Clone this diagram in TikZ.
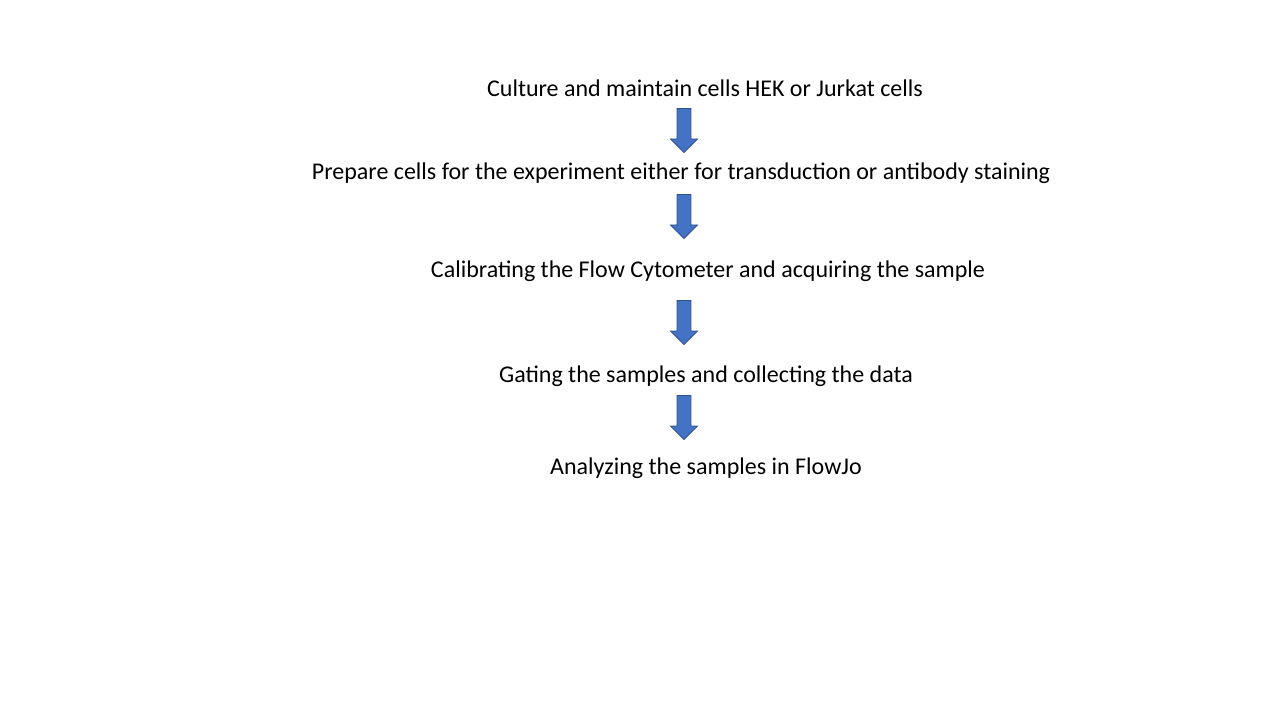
\documentclass[tikz,border=0pt]{standalone}
\usepackage{fontspec}
\setmainfont{Carlito}
\usetikzlibrary{shapes.arrows}
\definecolor{arrowblue}{HTML}{4472C4}
\definecolor{arrowedge}{HTML}{2F528F}

\begin{document}
\begin{tikzpicture}[x=0.75pt,y=-0.75pt,
	stage/.style={inner sep=0pt, font=\fontsize{18}{22}\selectfont},
	down/.style={single arrow, draw=arrowedge, fill=arrowblue, line width=0.6pt,
		shape border rotate=270, minimum height=33pt, minimum width=19.5pt,
		single arrow head extend=4.9pt, single arrow head indent=0pt, inner sep=4.9pt}]
			\useasboundingbox (0,0) rectangle (1280,720);

			\node[stage] (culture) at (705,88) {Culture and maintain cells HEK or Jurkat cells};
			\node[stage] (prepare) at (681,173) {Prepare cells for the experiment either for transduction or antibody staining};
			\node[stage] (calib) at (708,271) {Calibrating the Flow Cytometer and acquiring the sample};
			\node[stage] (gating) at (706,376) {Gating the samples and collecting the data};
			\node[stage] (flowjo) at (706,468) {Analyzing the samples in FlowJo};

			\node[down] (a1) at (684,127) {};
			\node[down] (a2) at (684,213) {};
			\node[down] (a3) at (684,319) {};
			\node[down] (a4) at (684,414) {};
		\end{tikzpicture}
\end{document}
